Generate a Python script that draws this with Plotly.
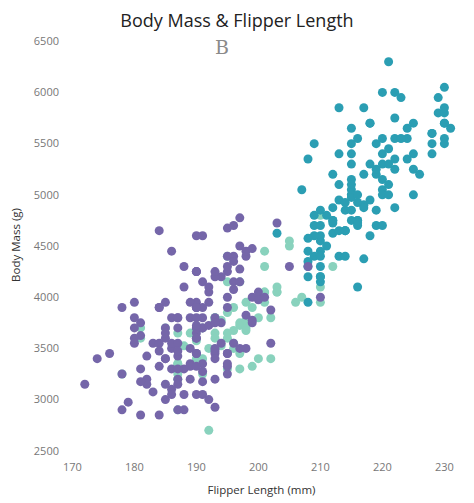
import plotly.graph_objects as go

# Adelie (flipper mm, body mass g)
adelie_flipper = [181,186,195,193,190,181,195,193,190,186,180,182,191,198,185,195,197,184,194,
                  174,180,189,185,180,187,183,187,172,180,
                  178,178,188,184,195,196,190,180,181,184,182,195,186,196,185,190,182,179,190,191,
                  186,188,190,200,187,191,186,193,181,194,185,195,185,192,184,192,195,188,
                  190,198,190,190,196,197,190,195,191,184,187,195,189,196,187,193,
                  191,194,190,189,189,190,202,205,185,186,187,208,190,196,178,192,
                  192,203,183,190,193,184,199,190,181,197,198,191,193,197,191,196,
                  188,199,189,189,187,198,176,202,186,199,191,195,191,210,190,197,
                  193,199,187,190,191,200,185,193,193,187,188,190,192,185,190,184,195,193,187,201]
adelie_mass = [3750,3800,3250,3450,3650,3625,4675,3475,4250,3300,3700,3200,3800,4400,3700,3450,4500,3325,4200,
               3400,3600,3800,3950,3800,3800,3550,3200,3150,3950,
               3250,3900,3300,3900,3325,4150,3950,3550,3300,4650,3150,3900,3100,4400,3000,4600,3425,2975,3450,4150,
               3500,4300,3450,4050,2900,3700,3550,3800,2850,3750,3150,4400,3600,4050,2850,3950,3350,4100,
               3050,4450,3600,3900,3550,4150,3700,4250,3700,3900,3550,4000,3200,4700,3800,4200,
               3350,3550,3800,3500,3950,3600,3550,4300,3400,4450,3300,4300,3700,4350,2900,4100,
               3725,4725,3075,4250,2925,3550,3750,3900,3175,4775,3825,4600,3200,4275,3900,4075,
               2900,3775,3350,3325,3150,3500,3450,3875,3050,4000,3275,4300,3050,4000,3325,3500,
               3500,4475,3425,3900,3175,3975,3400,4250,3400,3475,3050,3725,3000,3650,4250,3475,3450,3750,3700,4000]

# Chinstrap
chinstrap_flipper = [192,196,193,188,197,198,178,197,195,198,193,194,185,201,190,201,197,181,190,195,181,191,187,193,195,197,
                     200,200,191,205,187,201,187,203,195,199,195,210,192,205,210,187,196,196,196,201,190,212,187,198,199,201,
                     193,203,187,197,191,203,202,194,206,189,195,207,202,193,210,198]
chinstrap_mass = [3500,3900,3650,3525,3725,3950,3250,3750,4150,3700,3800,3775,3700,4050,3575,4050,3300,3700,3450,4400,3600,3400,2900,3800,3300,4150,
                  3400,3800,3700,4550,3200,4300,3350,4100,3600,3900,3850,4800,2700,4500,3950,3650,3550,3500,3675,4450,3400,4300,3250,3675,3325,3950,
                  3600,4050,3350,3450,3250,4050,3800,3525,3950,3650,3650,4000,3400,3775,4100,3775]

# Gentoo
gentoo_flipper = [211,230,210,218,215,210,211,219,209,215,214,216,214,213,210,217,210,221,209,222,218,215,213,215,215,215,216,215,210,220,222,209,207,230,
                  220,220,213,219,208,208,208,225,210,216,222,217,210,225,213,215,210,220,210,225,217,220,208,220,208,224,208,221,214,231,219,230,214,229,220,223,216,221,221,217,216,230,
                  209,220,215,223,212,221,212,224,212,228,218,218,212,230,218,228,212,224,214,226,216,222,203,225,219,228,215,228,216,215,210,219,208,209,216,229,213,230,217,230,217,222,214,215,222,212,213]
gentoo_mass = [4500,5700,4450,5700,5400,4550,4800,5200,4400,5150,4650,5550,4650,5850,4200,5850,4150,6300,4800,5350,5700,5000,4400,5050,5000,5100,4100,5650,4600,5550,5250,4700,5050,6050,
               5150,5400,4950,5250,4350,5350,3950,5700,4300,4750,5550,4900,4200,5400,5100,5300,4850,5300,4400,5000,4900,5050,4300,5000,4450,5550,4200,5300,4400,5650,4700,5700,4650,5800,4700,5550,4750,5000,5100,5200,4700,5800,
               4600,6000,4750,5950,4625,5450,4725,5350,4750,5600,4600,5300,4875,5550,4950,5400,4750,5650,4850,5200,4925,4875,4625,5250,4850,5600,4975,5500,4725,5500,4700,5500,4575,5500,5000,5950,4650,5500,4375,5850,4875,6000,4925,4850,5750,5200,5400]

x_ticks = [170, 180, 190, 200, 210, 220, 230]
y_ticks = [2500, 3000, 3500, 4000, 4500, 5000, 5500, 6000, 6500]

FONT = "Open Sans"
# the page adds an 8px body margin, so the figure is 8px smaller and shifted
W, H = 466, 495
ML, MR, MT, MB = 52, 11, 23, 44.4
PW, PH = W - ML - MR, H - MT - MB

fig = go.Figure()
series = [
    ("Chinstrap", chinstrap_flipper, chinstrap_mass, "#89d2bd"),
    ("Gentoo", gentoo_flipper, gentoo_mass, "#2b9eb3"),
    ("Adelie", adelie_flipper, adelie_mass, "#7566a9"),
]
for name, xs, ys, col in series:
    fig.add_trace(go.Scatter(
        x=xs, y=ys, mode="markers", name=name,
        marker=dict(size=9, color=col, line=dict(width=0)),
    ))

fig.update_layout(
    width=W, height=H,
    margin=dict(l=ML, r=MR, t=MT, b=MB, autoexpand=False),
    paper_bgcolor="white", plot_bgcolor="white",
    showlegend=False,
    title=dict(text="Body Mass & Flipper Length", x=229 / W, xanchor="center", xref="container",
               y=1 - 12.5 / H, yanchor="middle", yref="container", automargin=False,
               font=dict(family=FONT, size=18, color="#222222")),
    font=dict(family=FONT),
    xaxis=dict(range=[168, 233], tickvals=x_ticks, showgrid=False, zeroline=False,
               showline=False, ticks="", automargin=False,
               tickfont=dict(family=FONT, size=11, color="#777777"),
               title=dict(text="Flipper Length (mm)", standoff=12,
                          font=dict(family=FONT, size=11.5, color="#333333"))),
    yaxis=dict(range=[2420, 6600], tickvals=y_ticks, showgrid=False, zeroline=False,
               showline=False, ticks="", automargin=False,
               tickfont=dict(family=FONT, size=11, color="#777777"),
               title=dict(text="Body Mass (g)", standoff=10,
                          font=dict(family=FONT, size=11.5, color="#333333"))),
    annotations=[dict(text="B", x=(214 - ML) / PW, y=(H - MB - 39) / PH, xref="paper", yref="paper",
                      xanchor="center", yanchor="middle", showarrow=False,
                      font=dict(family="DejaVu Serif", size=19, color="#8a8a8a"))],
)

fig.write_html("out.html")
